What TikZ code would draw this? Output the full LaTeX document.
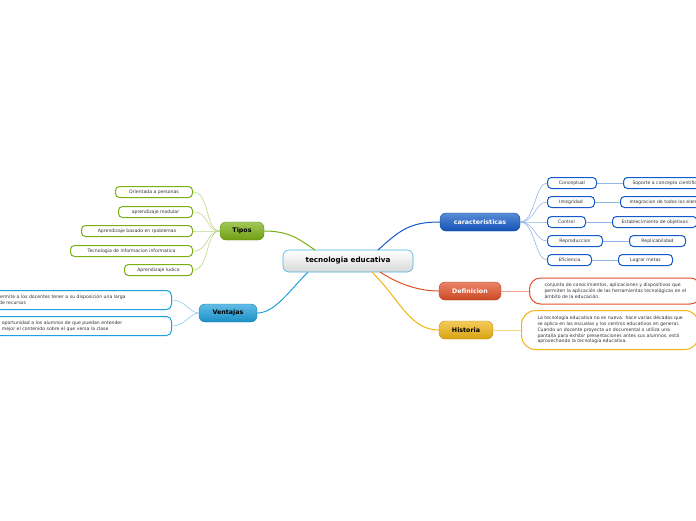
\documentclass[tikz,border=0pt]{standalone}
\usepackage{fontspec}
\setmainfont{DejaVu Sans}
\begin{document}
\begin{tikzpicture}[x=1pt,y=-1pt,
 leaf/.style={draw=#1,line width=1pt,rounded corners=4pt,fill=white,font=\fontsize{4.6}{5.6}\selectfont,text=black!80,inner sep=0pt,minimum height=11pt},
 topic/.style={draw=#1!80!black,rounded corners=6pt,top color=#1!70,bottom color=#1!90!black,font=\bfseries\fontsize{6.3}{7}\selectfont,inner sep=0pt,minimum height=18pt},
 big/.style={draw=#1,line width=1pt,rounded corners=11pt,fill=white,font=\fontsize{4.6}{5.8}\selectfont,text=black!80,align=left,inner sep=0pt},
 con/.style={draw=#1,line width=0.6pt}]
\definecolor{tg}{RGB}{122,176,20}
\definecolor{vb}{RGB}{30,160,220}
\definecolor{cb}{RGB}{20,90,200}
\definecolor{dr}{RGB}{225,80,40}
\definecolor{hy}{RGB}{240,180,20}
\useasboundingbox (0,0) rectangle (696,520);
\clip (0,0) rectangle (696,520);
% centre
\node[draw=vb!80,line width=0.6pt,rounded corners=6pt,top color=white,bottom color=gray!30,minimum width=130pt,minimum height=22pt,font=\bfseries\fontsize{7.2}{8}\selectfont] (c) at (348,261) {tecnologia educativa};
% topics
\node[topic=tg,minimum width=44pt] (tipos) at (242,231) {Tipos};
\node[topic=vb,minimum width=58pt] (ven) at (228,313) {Ventajas};
\node[topic=cb,minimum width=80pt,text=white] (car) at (480,222) {caracteristicas};
\node[topic=dr,minimum width=62pt,text=white] (def) at (470,291) {Definicion};
\node[topic=hy,minimum width=54pt] (his) at (466,330) {Historia};
% main connectors
\draw[con=tg,line width=1pt] (tipos.east) .. controls (290,231) and (300,240) .. (315,250);
\draw[con=vb,line width=1pt] (ven.east) .. controls (275,313) and (290,290) .. (308,272);
\draw[con=cb,line width=1pt] (378,250) .. controls (400,230) and (410,222) .. (car.west);
\draw[con=dr,line width=1pt] (380,272) .. controls (400,285) and (420,291) .. (def.west);
\draw[con=hy,line width=1pt] (372,272) .. controls (400,300) and (410,330) .. (his.west);
% tipos leaves
\foreach \n/\t/\w/\y in {t1/Orientada a personas/77/192,t2/aprendizaje modular/74/212,t3/Aprendizaje basado en rpoblemas/111/231,t4/Tecnologia de informacion informatica/122/251,t5/Aprendizaje ludico/68/270}{
 \node[leaf=tg,minimum width=\w pt,anchor=east] (\n) at (193,\y) {\t};
 \draw[con=tg!50] (tipos.west) .. controls (205,231) and (210,\y) .. (\n.east);}
% ventajas leaves
\node[big=vb,rounded corners=5pt,minimum height=19pt,text width=170pt,inner xsep=4pt,anchor=east] (v1) at (172,300) {Permite a los docentes tener a su disposición una larga\\\hspace*{1.6pt}de recursos};
\node[big=vb,rounded corners=5pt,minimum height=19pt,text width=170pt,inner xsep=4pt,anchor=east] (v2) at (172,326) {a oportunidad a los alumnos de que puedan entender\\o mejor el contenido sobre el que versa la clase};
\draw[con=vb!50] (ven.west) .. controls (190,313) and (185,300) .. (v1.east);
\draw[con=vb!50] (ven.west) .. controls (190,313) and (185,326) .. (v2.east);
% caracteristicas
\foreach \n/\t/\w/\y/\m/\mx in {a/Conceptual/49/183/Soporte a concepto científico/623,b/Integridad/47/202/Integracion de todos los elementos/620,c/Control/38/222/Establecimiento de objetivos/612}{
 \node[leaf=cb,minimum width=\w pt,anchor=west] (\n) at (547,\y) {\t};
 \node[leaf=cb,inner xsep=9pt,anchor=west] (\n2) at (\mx,\y) {\m};
 \draw[con=cb!45] (car.east) .. controls (535,222) and (535,\y) .. (\n.west);
 \draw[con=cb!45,line width=1pt] (\n.east) -- (\n2.west);}
\foreach \n/\t/\w/\y/\m/\mx/\mw in {d/Reproduccion/55/241/Replicabilidad/629/56,e/Eficiencia/44/260/Lograr metas/618/54}{
 \node[leaf=cb,minimum width=\w pt,anchor=west] (\n) at (547,\y) {\t};
 \node[leaf=cb,minimum width=\mw pt,anchor=west] (\n2) at (\mx,\y) {\m};
 \draw[con=cb!45] (car.east) .. controls (535,222) and (535,\y) .. (\n.west);
 \draw[con=cb!45,line width=1pt] (\n.east) -- (\n2.west);}
% definicion
\node[big=dr,anchor=west,minimum height=26pt,inner xsep=15pt] (dt) at (529,291) {conjunto de conocimientos, aplicaciones y dispositivos que\\permiten la aplicación de las herramientas tecnológicas en el\\ámbito de la educación.};
\draw[con=dr!50,line width=1pt] (def.east) -- (dt.west);
% historia
\node[big=hy,anchor=west,minimum height=39pt,inner xsep=16pt,rounded corners=14pt] (ht) at (521,330) {La tecnología educativa no es nueva: hace varias décadas que\\se aplica en las escuelas y los centros educativos en general.\\Cuando un docente proyecta un documental o utiliza una\\pantalla para exhibir presentaciones antes sus alumnos, está\\aprovechando la tecnología educativa.};
\draw[con=hy!50,line width=1pt] (his.east) -- (ht.west);
\end{tikzpicture}
\end{document}
